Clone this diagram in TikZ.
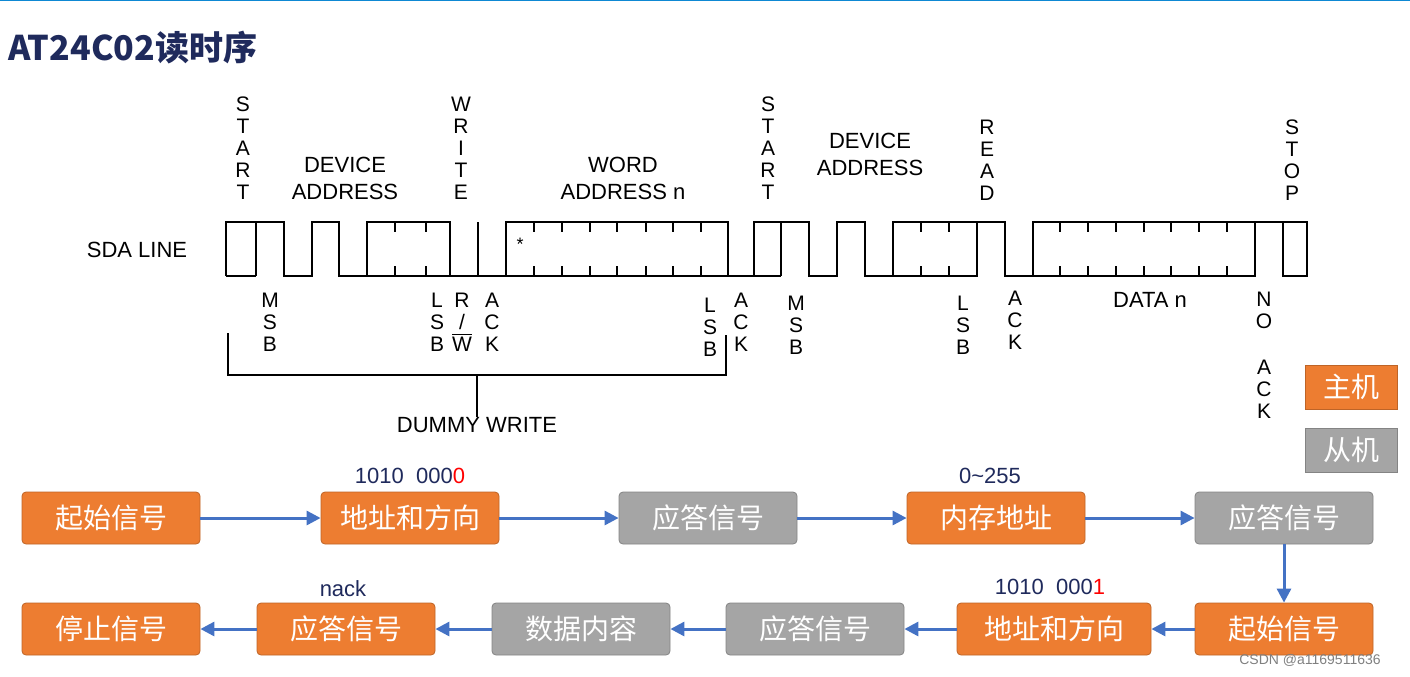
\documentclass[tikz,border=0pt]{standalone}
\usepackage{fontspec}
\setmainfont{Liberation Sans}
\newfontfamily\cjk{Noto Sans CJK SC}
\usetikzlibrary{arrows.meta,positioning}
\definecolor{zhuorange}{HTML}{ED7D31}
\definecolor{zhugray}{HTML}{A5A5A5}
\definecolor{flowblue}{HTML}{4472C4}
\definecolor{navytext}{HTML}{1F2A5C}
\tikzset{
  sig/.style={font=\fontsize{10.5}{11}\selectfont, align=center, inner sep=0pt},
  lbl/.style={font=\fontsize{11}{13.5}\selectfont, align=center, inner sep=0pt},
  host/.style={draw=zhuorange!80!black, fill=zhuorange, text=white, font=\cjk\fontsize{14}{16}\selectfont, minimum width=89pt, minimum height=26pt, rounded corners=2pt, inner sep=0pt},
  slave/.style={host, draw=zhugray!80!black, fill=zhugray},
  flow/.style={-{Triangle[length=7pt,width=7pt]}, flowblue, line width=1.5pt},
  num/.style={font=\fontsize{11}{13}\selectfont, text=navytext, inner sep=0pt},
}
\begin{document}
\begin{tikzpicture}[x=0.5pt,y=-0.5pt]
\useasboundingbox (0,0) rectangle (1410,676);
\draw[cyan!70!blue, line width=0.6pt] (0,0.6) -- (1410,0.6);
\node[anchor=west, font=\cjk\bfseries\fontsize{17}{20}\selectfont, text=navytext, inner sep=0pt] (title) at (8,48) {AT24C02读时序};

% waveform
\draw[line width=0.6pt] (226,276) -- (226,222) -- (284,222) -- (284,276) -- (312,276) -- (312,222) -- (339,222) -- (339,276) -- (367,276)
  -- (367,222) -- (450,222) -- (450,276) -- (367,276);
\draw[line width=0.6pt] (226,276) -- (256,276) (256,222) -- (256,276);
\draw[line width=0.6pt] (450,276) -- (506,276) -- (506,222) -- (728,222) -- (728,276) -- (506,276);
\draw[line width=1.4pt] (478,222) -- (478,276);
\draw[line width=0.6pt] (728,276) -- (754,276) -- (754,222) -- (809,222) -- (809,276) -- (837,276) -- (837,222) -- (865,222) -- (865,276) -- (893,276)
  -- (893,222) -- (1005,222) -- (1005,276) -- (1033,276) -- (1033,222) -- (1307,222) -- (1307,276) -- (1283,276) -- (1283,222);
\draw[line width=0.6pt] (754,276) -- (781,276) (781,222) -- (781,276) (893,276) -- (977,276) -- (977,222) (1033,276) -- (1255,276) -- (1255,222);
\foreach \t in {395,426,921,949,534,562,590,617,646,673,701,1060,1088,1116,1144,1171,1199,1227}
  \draw[line width=0.6pt] (\t,222) -- (\t,232) (\t,266) -- (\t,276);
\node[font=\small, inner sep=0pt] (star) at (520,244) {*};

% labels above
\node[sig] (start1) at (243,148) {S\\T\\A\\R\\T};
\node[lbl] (dev1) at (345,178) {DEVICE\\ADDRESS};
\node[sig] (write) at (461,148) {W\\R\\I\\T\\E};
\node[lbl] (word) at (623,178) {WORD\\ADDRESS n};
\node[sig] (start2) at (768,148) {S\\T\\A\\R\\T};
\node[lbl] (dev2) at (870,154) {DEVICE\\ADDRESS};
\node[sig] (read) at (987,160) {R\\E\\A\\D};
\node[sig] (stop) at (1292,160) {S\\T\\O\\P};
\node[lbl] (sda) at (137,250) {SDA LINE};

% labels below
\node[sig] (msb1) at (270,322) {M\\S\\B};
\node[sig] (lsb1) at (437,322) {L\\S\\B};
\node[sig] (rw) at (462,322) {R\\/\\$\overline{\mbox{W}}$};
\node[sig] (ack1) at (492,322) {A\\C\\K};
\node[sig] (lsb2) at (710,327) {L\\S\\B};
\node[sig] (ack2) at (741,322) {A\\C\\K};
\node[sig] (msb2) at (796,325) {M\\S\\B};
\node[sig] (lsb3) at (963,325) {L\\S\\B};
\node[sig] (ack3) at (1015,320) {A\\C\\K};
\node[lbl] (data) at (1150,300) {DATA n};
\node[sig] (no) at (1264,310) {N\\O};
\node[sig] (nack) at (1264,389) {A\\C\\K};

% dummy write bracket
\coordinate (brl) at (228,333);
\coordinate (brr) at (726,335);
\coordinate (brm) at (477,375);
\node[lbl] (dummy) at (477,425) {DUMMY WRITE};
\draw[line width=0.6pt] (brl) |- (brm) -| (brr);
\draw[line width=0.6pt] (brm) -- (dummy.north);

% legend
\node[host, minimum width=46pt, minimum height=22pt, rounded corners=0pt] (leg1) at (1351,387) {主机};
\node[slave, minimum width=46pt, minimum height=22pt, rounded corners=0pt] (leg2) at (1351,450) {从机};

% flow
\node[host] (f1) at (111,518) {起始信号};
\node[host] (f2) at (410,518) {地址和方向};
\node[slave] (f3) at (708,518) {应答信号};
\node[host] (f4) at (996,518) {内存地址};
\node[slave] (f5) at (1284,518) {应答信号};
\node[host] (g6) at (1284,629) {起始信号};
\node[host, minimum width=97pt] (g5) at (1054,629) {地址和方向};
\node[slave] (g4) at (815,629) {应答信号};
\node[slave] (g3) at (581,629) {数据内容};
\node[host] (g2) at (346,629) {应答信号};
\node[host] (g1) at (111,629) {停止信号};
\draw[flow] (f1) -- (f2);
\draw[flow] (f2) -- (f3);
\draw[flow] (f3) -- (f4);
\draw[flow] (f4) -- (f5);
\draw[flow] (f5) -- (g6);
\draw[flow] (g6) -- (g5);
\draw[flow] (g5) -- (g4);
\draw[flow] (g4) -- (g3);
\draw[flow] (g3) -- (g2);
\draw[flow] (g2) -- (g1);

\node[num] (addr1) at (410,476) {1010\ \ 000\textcolor{red}{0}};
\node[num] (range) at (990,476) {0\textasciitilde255};
\node[num] (addr2) at (1050,587) {1010\ \ 000\textcolor{red}{1}};
\node[num] (nacklbl) at (343,589) {nack};
\node[font=\fontsize{7}{8}\selectfont, text=gray, inner sep=0pt] (mark) at (1310,660) {CSDN @a1169511636};
\end{tikzpicture}
\end{document}
